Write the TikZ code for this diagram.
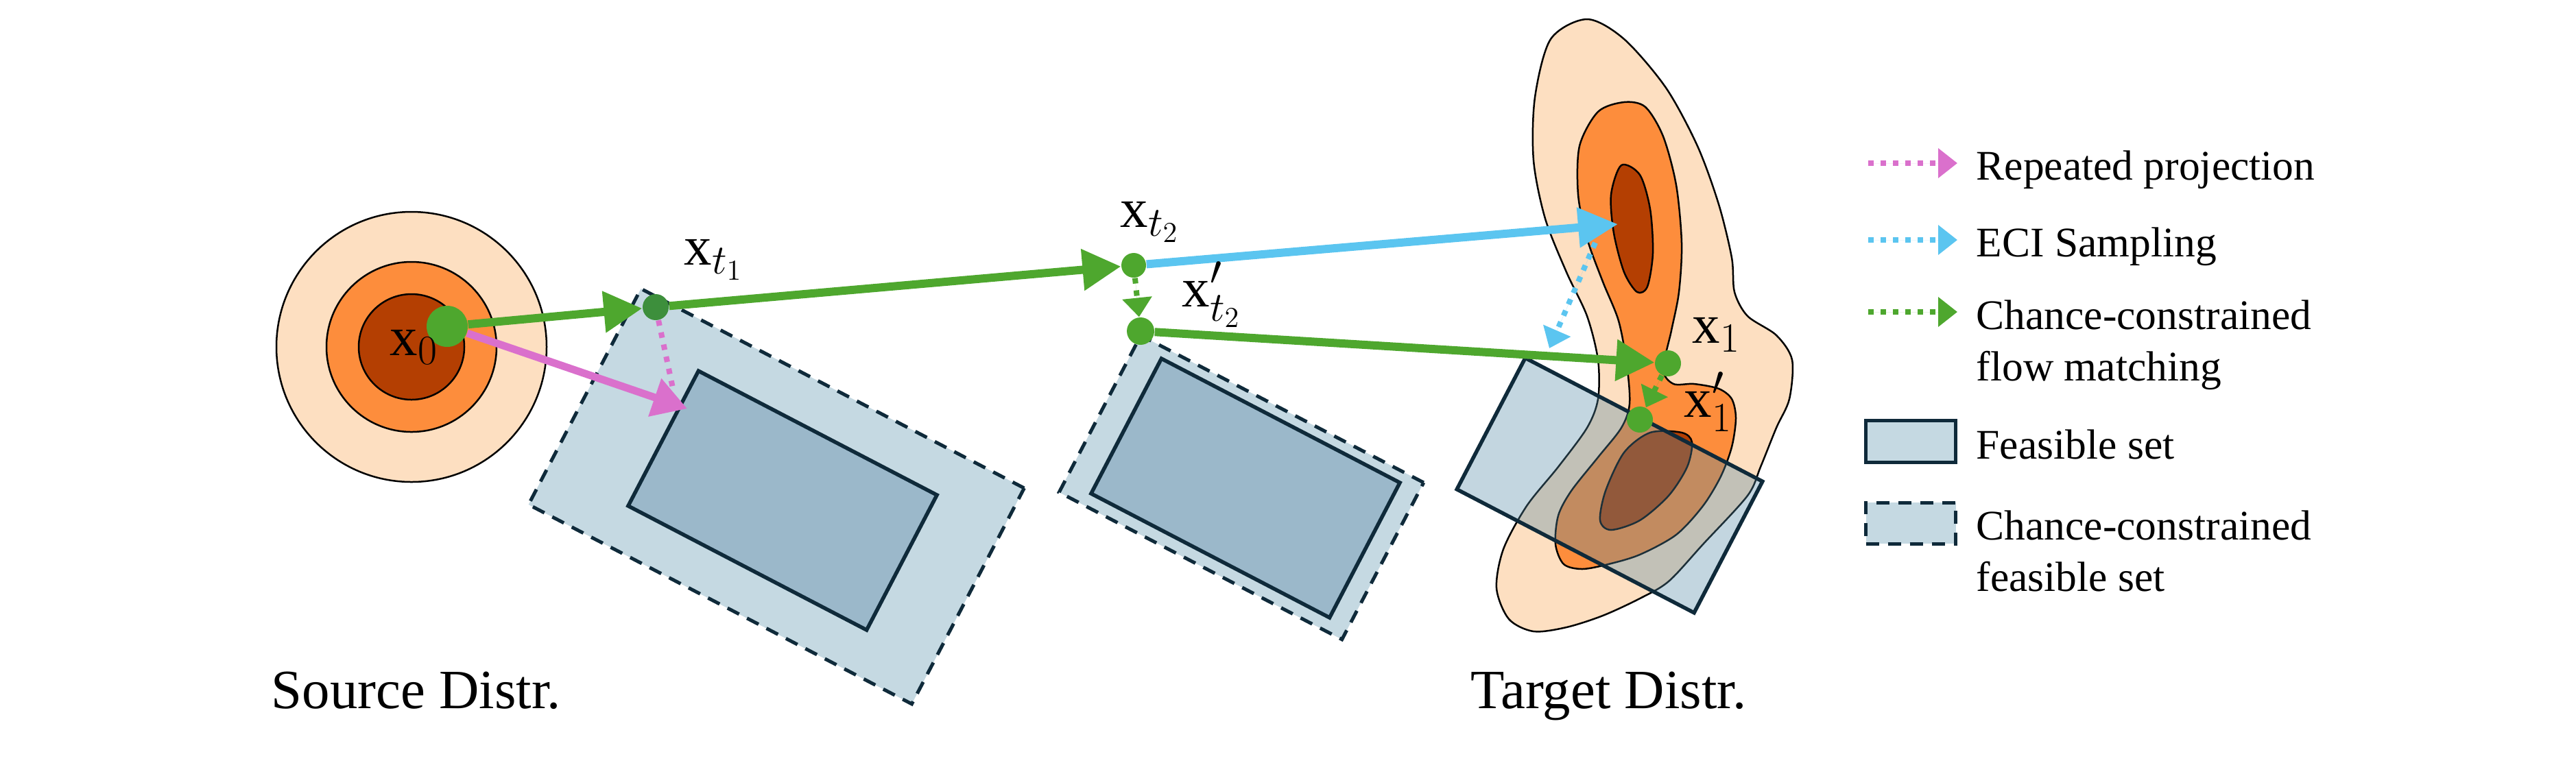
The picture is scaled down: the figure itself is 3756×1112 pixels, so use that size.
\documentclass[tikz,border=0pt]{standalone}
\usepackage{fontspec}
\setmainfont{Liberation Serif}
\usetikzlibrary{arrows.meta, shapes}
\definecolor{peach}{HTML}{FDDFC1}
\definecolor{midorange}{HTML}{FD8D3C}
\definecolor{darkcore}{HTML}{B43F02}
\definecolor{flowgreen}{HTML}{4EA72E}
\definecolor{flowdark}{HTML}{3D8F3C}
\definecolor{ecicyan}{HTML}{5BC5F0}
\definecolor{projpink}{HTML}{DA70CC}
\definecolor{setline}{HTML}{0F2A3A}
\definecolor{ccfill}{HTML}{C5D9E2}
\definecolor{feasfill}{HTML}{9BB8CA}
\definecolor{tgtfill}{HTML}{548AA6}
\tikzstyle{contour} = [draw=black, line width=0.25mm]
\tikzstyle{gdot} = [circle, fill=flowgreen, inner sep=0pt, minimum size=3.8mm]
\tikzstyle{flow} = [draw=flowgreen, line width=1.2mm, -{Triangle[length=5.6mm, width=5.8mm]}]
\tikzstyle{eci} = [draw=ecicyan, line width=1.2mm, -{Triangle[length=5.8mm, width=5.6mm]}]
\tikzstyle{proj} = [draw=projpink, line width=1.1mm, -{Triangle[length=5mm, width=5.6mm]}]
\tikzstyle{dotline} = [line width=0.8mm, dash pattern=on 0.8mm off 1mm]
\tikzstyle{smalltip} = [-{Triangle[length=2.8mm, width=4.2mm]}]
\tikzstyle{ccset} = [draw=setline, fill=ccfill, line width=0.5mm, dash pattern=on 1.9mm off 1.3mm]
\tikzstyle{feas} = [draw=setline, fill=feasfill, line width=0.55mm]
\tikzstyle{lab} = [inner sep=0pt, anchor=base west, font=\fontsize{23}{27}\selectfont]
\tikzstyle{legtext} = [inner sep=0pt, anchor=base west, align=left, font=\fontsize{17.5}{21.3}\selectfont]

\begin{document}
\begin{tikzpicture}[x=0.1mm, y=-0.1mm]
\useasboundingbox (0,0) rectangle (3756,1112);

% source distribution
\draw [contour, fill=peach] (600,506) circle [radius=19.7mm];
\draw [contour, fill=midorange] (600,506) circle [radius=12.4mm];
\draw [contour, fill=darkcore] (600,506) circle [radius=7.7mm];

% feasible sets
\node [ccset, minimum width=63mm, minimum height=35.5mm, rotate=-27.5] (cc1) at (1132,724) {};
\node [feas, minimum width=39.2mm, minimum height=22.2mm, rotate=-27.5] (fs1) at (1141,730) {};
\node [ccset, minimum width=46.5mm, minimum height=25.8mm, rotate=-27.5] (cc2) at (1810,711) {};
\node [feas, minimum width=39.2mm, minimum height=22.2mm, rotate=-27.5] (fs2) at (1816,712) {};

% target distribution
\draw [contour, fill=peach] plot [smooth cycle] coordinates {
	(2314,28) (2368,57) (2429,128) (2475,213) (2506,298) (2525,376) (2529,426)
	(2548,461) (2590,489) (2613,525) (2609,582) (2590,624) (2567,681) (2548,723)
	(2483,794) (2433,848) (2391,873) (2337,898) (2284,915) (2236,921) (2200,903)
	(2182,858) (2192,801) (2226,738) (2272,681) (2314,624) (2330,582) (2330,525)
	(2314,461) (2284,397) (2253,319) (2236,234) (2238,142) (2261,57)};
\draw [contour, fill=midorange] plot [smooth cycle] coordinates {
	(2368,149) (2399,156) (2425,199) (2444,270) (2452,355) (2448,426) (2437,482)
	(2425,539) (2440,560) (2470,560) (2506,567) (2525,582) (2531,610) (2525,652)
	(2509,695) (2483,738) (2444,780) (2391,809) (2345,823) (2307,830) (2280,823)
	(2268,794) (2272,752) (2291,716) (2330,667) (2364,624) (2376,589) (2372,532)
	(2360,468) (2337,411) (2314,348) (2301,284) (2303,213) (2330,163)};
\draw [contour, fill=darkcore] plot [smooth cycle] coordinates {
	(2364,241) (2391,255) (2406,305) (2410,369) (2402,418) (2387,426) (2368,397)
	(2353,340) (2349,284)};
\draw [contour, fill=darkcore] plot [smooth cycle] coordinates {
	(2406,631) (2452,631) (2467,645) (2460,681) (2433,723) (2391,759) (2349,773)
	(2333,759) (2341,716) (2368,660)};
\node [draw=setline, fill=tgtfill, fill opacity=0.35, line width=0.55mm,
	minimum width=39mm, minimum height=21.6mm, rotate=-27.5] (fs3) at (2347,708) {};

% samples
\node [gdot, minimum size=6mm] (x0) at (652,476) {};
\node [gdot, fill=flowdark] (xt1) at (956,448) {};
\node [gdot, minimum size=3.6mm] (xt2) at (1653,387) {};
\node [gdot, minimum size=4mm] (xt2p) at (1663,483) {};
\node [gdot] (x1) at (2432,530) {};
\node [gdot] (x1p) at (2391,612) {};
\coordinate (eci) at (2359,327);
\coordinate (ecis) at (2326,354);
\coordinate (ecie) at (2259,508);
\coordinate (proj1) at (1002,596);
\coordinate (proj1d) at (981,566);

% arrows
\path [proj] (x0) -- (proj1);
\path [dotline, draw=projpink] (xt1) -- (proj1d);
\path [flow] (x0) -- (xt1);
\path [flow] (xt1) -- (xt2);
\path [eci] (xt2) -- (eci);
\path [dotline, smalltip, draw=ecicyan, fill=ecicyan] (ecis) -- (ecie);
\path [dotline, smalltip, draw=flowgreen, fill=flowgreen] (xt2) -- (xt2p);
\path [flow] (xt2p) -- (x1);
\path [dotline, smalltip, draw=flowgreen, fill=flowgreen] (x1) -- (x1p);

% labels
\node [lab] (lx0) at (568,518) {$\mathrm{x}_0$};
\node [lab] (lxt1) at (997,386) {$\mathrm{x}_{t_1}$};
\node [lab] (lxt2) at (1633,331) {$\mathrm{x}_{t_2}$};
\node [lab] (lxt2p) at (1723,447) {$\mathrm{x}'_{t_2}$};
\node [lab] (lx1) at (2467,500) {$\mathrm{x}_1$};
\node [lab] (lx1p) at (2455,608) {$\mathrm{x}'_1$};
\node [lab] (src) at (395,1033) {Source Distr.};
\node [lab] (tgt) at (2144,1033) {Target Distr.};

% legend
\coordinate (lg1a) at (2724,238);
\coordinate (lg1b) at (2854,238);
\coordinate (lg2a) at (2724,350);
\coordinate (lg2b) at (2854,350);
\coordinate (lg3a) at (2724,455);
\coordinate (lg3b) at (2854,455);
\path [dotline, smalltip, draw=projpink, fill=projpink] (lg1a) -- (lg1b);
\path [dotline, smalltip, draw=ecicyan, fill=ecicyan] (lg2a) -- (lg2b);
\path [dotline, smalltip, draw=flowgreen, fill=flowgreen] (lg3a) -- (lg3b);
\node [feas, fill=ccfill, minimum width=13.1mm, minimum height=6.1mm] (lg4) at (2786,644) {};
\node [ccset, minimum width=13.1mm, minimum height=6mm] (lg5) at (2786,763) {};
\node [legtext] (lt1) at (2881,262) {Repeated projection};
\node [legtext] (lt2) at (2881,374) {ECI Sampling};
\node [legtext] (lt3) at (2881,555) {Chance-constrained\\flow matching};
\node [legtext] (lt4) at (2881,669) {Feasible set};
\node [legtext] (lt5) at (2881,862) {Chance-constrained\\feasible set};
\end{tikzpicture}
\end{document}
